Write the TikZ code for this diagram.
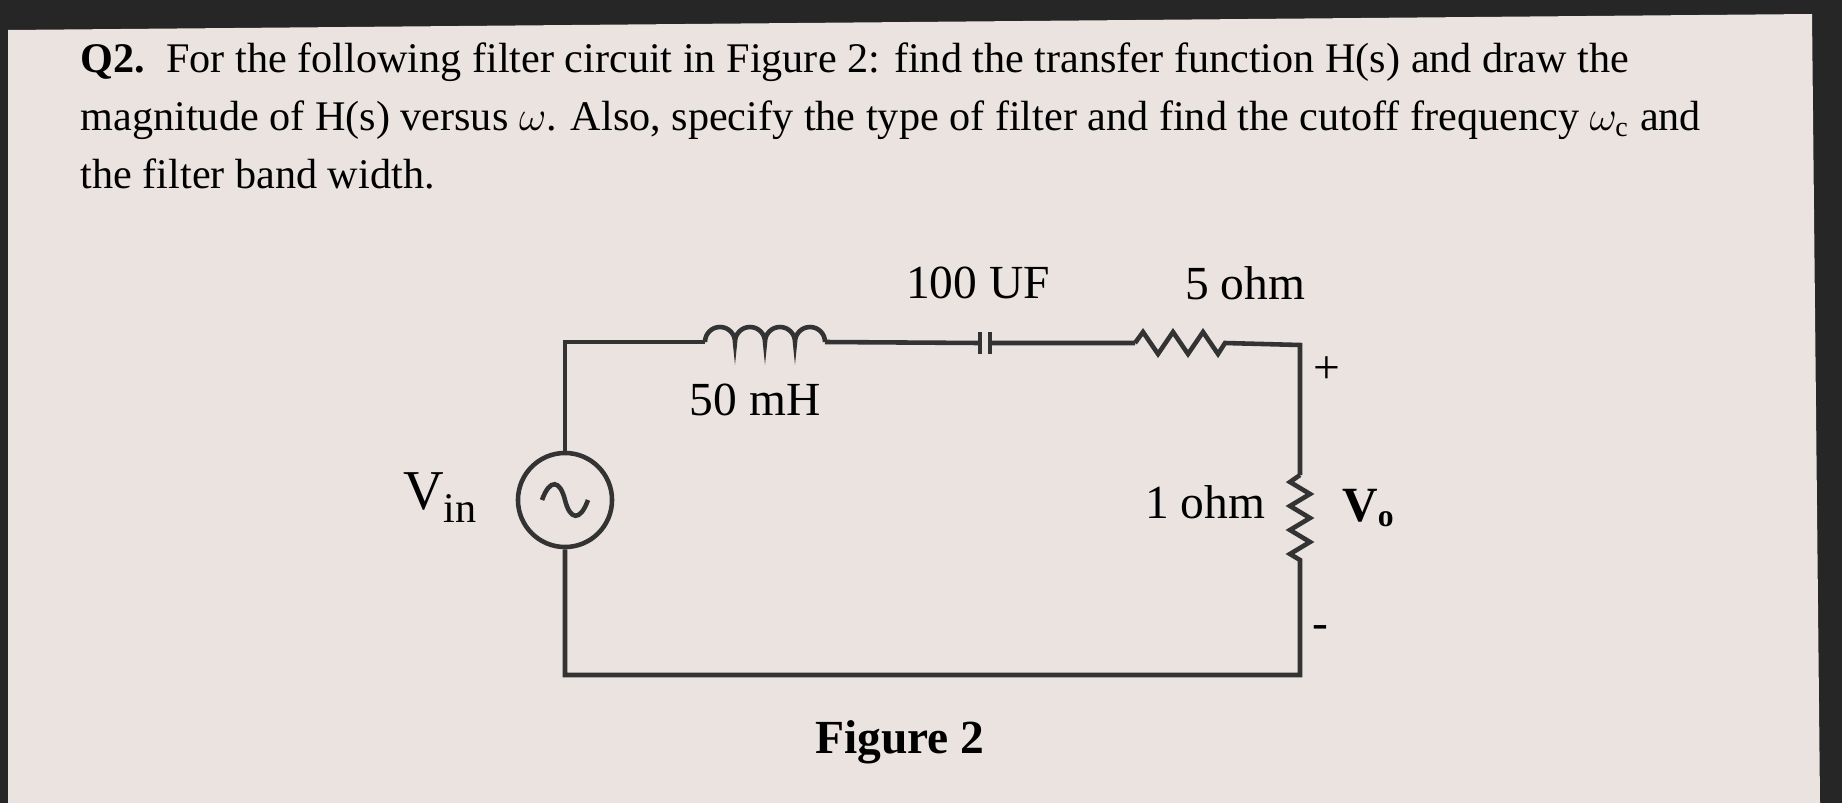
\documentclass[tikz,border=0pt]{standalone}
\usepackage{fontspec}
\setmainfont{Liberation Serif}
\definecolor{paper}{RGB}{234,227,224}
\begin{document}
\begin{tikzpicture}[x=0.01cm,y=-0.01cm,
  wire/.style={line width=1.3pt,color=black!80},
  lbl/.style={font=\fontsize{13.5}{15}\selectfont,inner sep=0pt},
  body/.style={font=\fontsize{12}{16.5}\selectfont,anchor=north west,inner sep=0pt,align=left}]
\fill[black!85] (0,0) rectangle (1842,803);
\fill[paper] (8,30) -- (1812,14) -- (1820,803) -- (8,803) -- cycle;
\node[body] (q) at (80,42) {\textbf{Q2.}\, For the following filter circuit in Figure 2: find the transfer function H(s) and draw the\\ magnitude of H(s) versus $\omega$. Also, specify the type of filter and find the cutoff frequency $\omega_{\mathrm c}$ and\\ the filter band width.};
\coordinate (tl) at (565,342);
\coordinate (l1) at (705,342);
\coordinate (l2) at (825,342);
\coordinate (c1) at (980,343);
\coordinate (c2) at (990,343);
\coordinate (r1) at (1135,343);
\coordinate (r2) at (1225,343);
\coordinate (tr) at (1300,345);
\coordinate (v1) at (1300,475);
\coordinate (v2) at (1300,560);
\coordinate (br) at (1300,675);
\coordinate (bl) at (565,675);
\node[draw,circle,line width=1.3pt,minimum size=0.94cm,color=black!80] (src) at (565,500) {};
\draw[wire] (src.north) -- (tl) -- (l1);
\draw[wire] (l1) \foreach \i in {0,...,3}{ arc[start angle=180,end angle=360,radius=15] } ;
\draw[wire] (l2) -- (c1) (c2) -- (r1);
\draw[wire] (980,332) -- (980,354) (990,332) -- (990,354);
\draw[wire] (r1) -- (1143,332) -- (1158,354) -- (1173,332) -- (1188,354) -- (1203,332) -- (1218,354) -- (r2) -- (tr) -- (v1);
\draw[wire] (v1) -- (1290,482) -- (1310,494) -- (1290,506) -- (1310,518) -- (1290,530) -- (1310,542) -- (1290,554) -- (v2) -- (br) -- (bl) -- (src.south);
\draw[wire] (542,500) .. controls (550,478) and (560,480) .. (565,500) .. controls (570,520) and (580,522) .. (588,500);
\node[lbl] (cap) at (978,283) {100 UF};
\node[lbl] (r5) at (1245,283) {5 ohm};
\node[lbl] (ind) at (755,400) {50 mH};
\node[lbl,font=\fontsize{16}{18}\selectfont] (vin) at (440,498) {V\raisebox{-0.5ex}{\fontsize{12}{14}\selectfont in}};
\node[lbl] (r1l) at (1205,502) {1 ohm};
\node[lbl,font=\fontsize{14}{16}\selectfont\bfseries] (vo) at (1368,508) {V\raisebox{-0.2ex}{\fontsize{9}{10}\selectfont o}};
\node[lbl] (plus) at (1327,370) {+};
\node[lbl] (minus) at (1320,632) {-};
\node[lbl,font=\fontsize{13.5}{15}\selectfont\bfseries] (fig) at (900,742) {Figure 2};
\end{tikzpicture}
\end{document}
